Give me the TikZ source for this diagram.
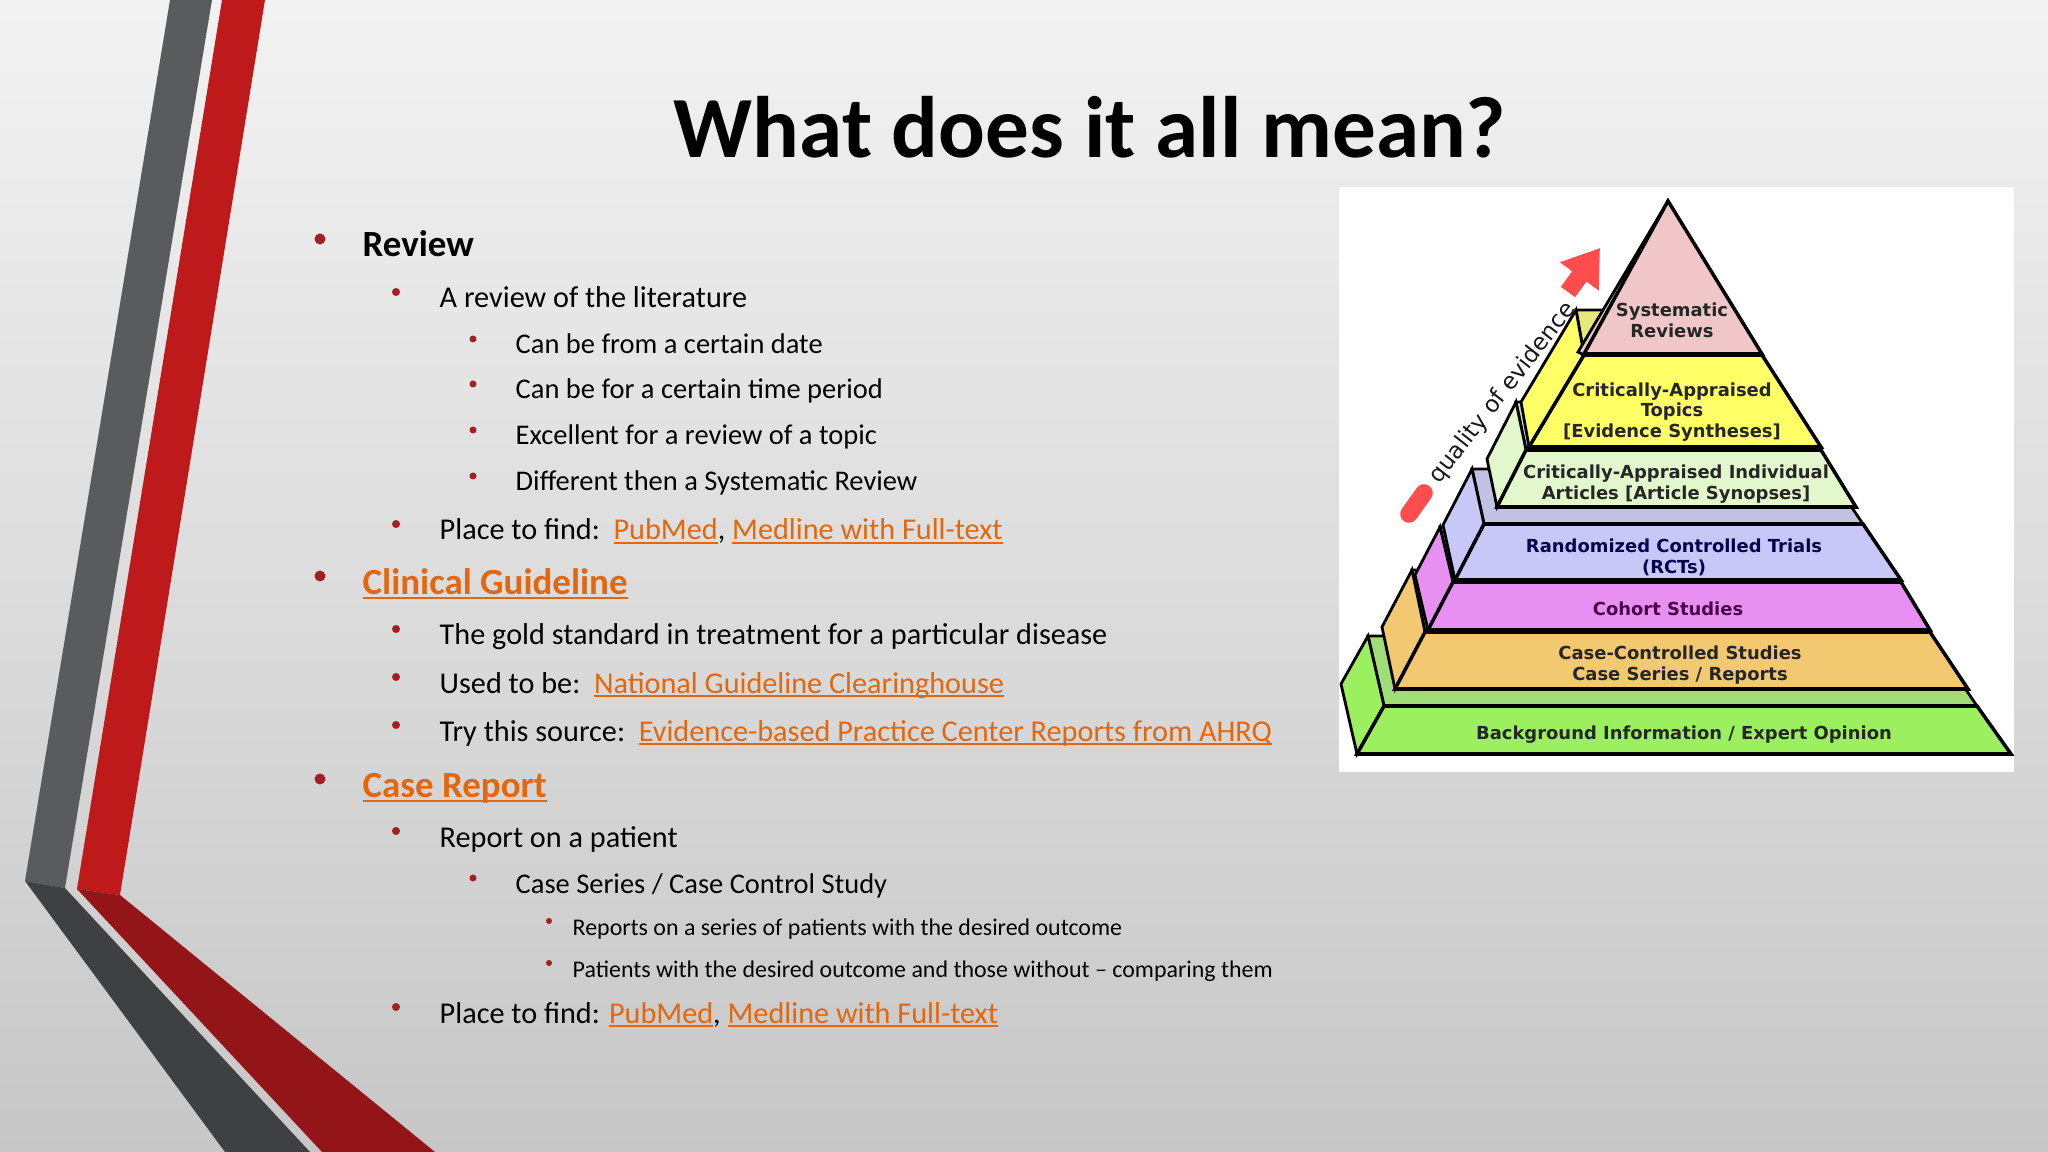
\documentclass[tikz,border=0pt]{standalone}
\usepackage{fontspec}
\setmainfont{Carlito}
\newfontfamily\vfont{DejaVu Sans}
\usetikzlibrary{arrows.meta,calc}
\definecolor{lnk}{HTML}{E2670F}
\definecolor{bul}{HTML}{A31F24}
\definecolor{gtop}{HTML}{5A5B5D}
\definecolor{gbot}{HTML}{3F4042}
\definecolor{rtop}{HTML}{BE1A1C}
\definecolor{rbot}{HTML}{941518}
\definecolor{cbg}{HTML}{9CF060}
\definecolor{ccase}{HTML}{F2C870}
\definecolor{ccoh}{HTML}{E890F2}
\definecolor{crct}{HTML}{C8C8F8}
\definecolor{ccai}{HTML}{E2F8CC}
\definecolor{ccat}{HTML}{FFFF66}
\definecolor{csys}{HTML}{F0C6C8}
\newcommand\lk[1]{\textcolor{lnk}{\setbox0\hbox{#1}\rlap{\rule[-0.13em]{\wd0}{0.06em}}\box0}}
% #1 colour, #2 top y, #3 top xl, #4 top xr, #5 bottom y, #6 bottom xl, #7 bottom xr, #8 dx, #9 dy
\newcommand\pblock[9]{%
  \fill[#1!80!gray!90!white,draw=black,line width=0.8pt] (#3,#2) -- (#4,#2) -- ($(#4,#2)+(0.68*#9,#9)$) -- ($(#3,#2)+(#8,#9)$) -- cycle;
  \fill[#1,draw=black,line width=0.8pt] (#3,#2) -- ($(#3,#2)+(#8,#9)$) -- ($(#6,#5)+(#8,#9)$) -- (#6,#5) -- cycle;
  \fill[#1,draw=black,line width=1pt] (#3,#2) -- (#4,#2) -- (#7,#5) -- (#6,#5) -- cycle;}
\tikzset{
 l1/.style={anchor=base west,inner sep=0pt,font=\fontsize{10.5}{12}\selectfont\bfseries},
 l2/.style={anchor=base west,inner sep=0pt,font=\fontsize{8.6}{10}\selectfont},
 l3/.style={anchor=base west,inner sep=0pt,font=\fontsize{8.1}{9.5}\selectfont},
 l4/.style={anchor=base west,inner sep=0pt,font=\fontsize{6.8}{8}\selectfont},
 pt/.style={font=\vfont\bfseries\fontsize{5.1}{5.9}\selectfont,align=center,text=black!85},
}
\begin{document}
\begin{tikzpicture}[x=0.01cm,y=-0.01cm]
\shade[top color=white!90!gray, bottom color=black!22] (0,0) rectangle (2048,1152);
\useasboundingbox (0,0) rectangle (2048,1152);
% stripes
\fill[gtop] (170,0) -- (212,0) -- (65,888) -- (25,881) -- cycle;
\fill[gbot] (25,881) -- (65,888) -- (310,1152) -- (225,1152) -- cycle;
\fill[rtop] (222,0) -- (265,0) -- (120,895) -- (77,889) -- cycle;
\fill[rbot] (77,889) -- (120,895) -- (435,1152) -- (322,1152) -- cycle;
% title
\node[font=\fontsize{24.8}{28}\selectfont\bfseries] (title) at (1090,127) {What does it all mean?};
% bullets
\foreach \y/\x/\r in {245/320/5.5,582/320/5.5,785/320/5.5,
  298/396/4,530/396/4,635/396/4,683/396/4,731/396/4,837/396/4,1013/396/4,
  345/473/3.5,390/473/3.5,436/473/3.5,482/473/3.5,884/473/3.5,
  927/549/3,969/549/3}
  \fill[bul] (\x,\y-6) circle (\r);
\node[l1] (t1) at (362,257) {Review};
\node[l2] (t2) at (439,308) {A review of the literature};
\node[l3] (t3) at (515,354) {Can be from a certain date};
\node[l3] (t4) at (515,399) {Can be for a certain time period};
\node[l3] (t5) at (515,445) {Excellent for a review of a topic};
\node[l3] (t6) at (515,491) {Different then a Systematic Review};
\node[l2] (t7) at (439,540) {Place to find:\ \ \lk{PubMed}, \lk{Medline with Full-text}};
\node[l1] (t8) at (362,594) {\lk{Clinical Guideline}};
\node[l2] (t9) at (439,645) {The gold standard in treatment for a particular disease};
\node[l2] (t10) at (439,693) {Used to be:\ \ \lk{National Guideline Clearinghouse}};
\node[l2] (t11) at (439,741) {Try this source:\ \ \lk{Evidence-based Practice Center Reports from AHRQ}};
\node[l1] (t12) at (362,797) {\lk{Case Report}};
\node[l2] (t13) at (439,847) {Report on a patient};
\node[l3] (t14) at (515,893) {Case Series / Case Control Study};
\node[l4] (t15) at (572,935) {Reports on a series of patients with the desired outcome};
\node[l4] (t16) at (572,977) {Patients with the desired outcome and those without -- comparing them};
\node[l2] (t17) at (439,1023) {Place to find: \lk{PubMed}, \lk{Medline with Full-text}};
% pyramid box
\fill[white] (1339,187) rectangle (2014,772);
\pblock{cbg}{706}{1384}{1977}{754}{1357}{2011}{-16}{-70}
\pblock{ccase}{632}{1425}{1930}{689}{1395}{1968}{-13}{-62}
\pblock{ccoh}{582}{1453}{1901}{630}{1428}{1930}{-13}{-55}
\pblock{crct}{524}{1484}{1863}{580}{1455}{1901}{-12}{-55}
\pblock{ccai}{450}{1526}{1821}{507}{1497}{1856}{-10}{-48}
\pblock{ccat}{355}{1584}{1762}{447}{1529}{1821}{-8}{-45}
\fill[csys,draw=black,line width=0.8pt] (1668,201) -- (1578,352) -- (1584,355) -- cycle;
\fill[csys,draw=black,line width=1pt] (1668,201) -- (1762,354) -- (1584,354) -- cycle;
\node[pt] (p1) at (1672,320) {Systematic\\Reviews};
\node[pt] (p2) at (1672,412) {Critically-Appraised\\Topics\\{[}Evidence Syntheses{]}};
\node[pt] (p3) at (1676,484) {Critically-Appraised Individual\\Articles {[}Article Synopses{]}};
\node[pt,text=blue!30!black] (p4) at (1674,557) {Randomized Controlled Trials\\(RCTs)};
\node[pt,text=violet!60!black] (p5) at (1668,609) {Cohort Studies};
\node[pt] (p6) at (1680,665) {Case-Controlled Studies\\Case Series / Reports};
\node[pt] (p7) at (1684,735) {Background Information / Expert Opinion};
\node[font=\vfont\fontsize{6.6}{8}\selectfont,rotate=52,text=black!90,inner sep=0pt] (q) at (1503,393) {quality of evidence};
\draw[red!70!white,line width=5pt,line cap=round] (1409,514) -- (1424,493);
\coordinate (a1) at (1568,292);
\coordinate (a2) at (1600,248);
\draw[red!70!white,line width=5pt,-{Triangle[width=13pt,length=10pt]}] (a1) -- (a2);
\end{tikzpicture}
\end{document}
